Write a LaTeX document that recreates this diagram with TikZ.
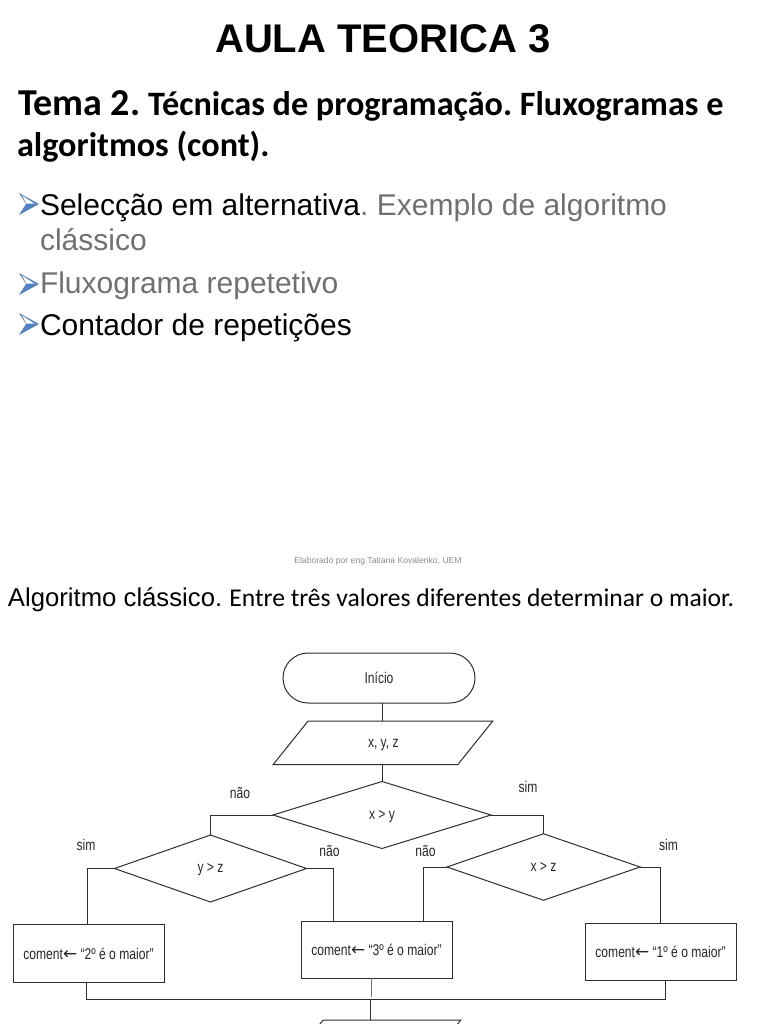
\documentclass[tikz,border=0pt]{standalone}
\usepackage{fontspec}
\setmainfont{Liberation Sans}
\newfontfamily\carl{Carlito}
\newfontfamily\dejavu{DejaVu Sans}
\newfontfamily\narrow[FakeStretch=0.78]{Liberation Sans}
\usetikzlibrary{shapes.geometric,calc}
\definecolor{graytxt}{RGB}{112,112,112}
\definecolor{bulletblue}{RGB}{84,128,196}
\definecolor{linecol}{RGB}{45,45,45}
\newcommand{\fs}[1]{\fontsize{#1}{#1}\selectfont}
\newcommand{\arr}{{\dejavu\fontsize{17}{17}\selectfont\char"2190}}
\newcommand{\dn}[1]{\raisebox{-2.4pt}{#1}}
\newcommand{\dnz}[1]{\raisebox{-4.2pt}[0pt][0pt]{#1}}
\frenchspacing
\tikzset{
  txt/.style={anchor=base west,inner sep=0pt,outer sep=0pt},
  lab/.style={inner sep=0pt,font=\narrow\fs{15.5},text=black!85},
  shp/.style={draw=linecol,line width=1pt,inner sep=0pt,outer sep=0pt,font=\narrow\fs{15.5},text=black!85},
  dec/.style={shp,diamond},
  para/.style={shp,trapezium,trapezium stretches=true,trapezium left angle=51,trapezium right angle=129,text width=30pt,align=center},
  conn/.style={draw=linecol,line width=1pt},
  blt/.pic={
    \fill[bulletblue] (0,0) -- (20,11) -- (0,22) -- (7,11) -- cycle;
    \fill[white] (3.2,2.6) -- (15.5,10.7) -- (7.4,10.7) -- cycle;
  }
}
\begin{document}
\begin{tikzpicture}[x=1pt,y=-1pt]
\useasboundingbox (0,0) rectangle (768,1024);
\clip (0,0) rectangle (768,1024);
% Heading text
\node[inner sep=0pt] (title) at (383,38.5) {\fs{40}\bfseries AULA TEORICA 3};
\node[txt] (t1) at (18,115.5) {\carl\bfseries\fs{38}Tema 2.\fs{34.2} Técnicas de programação. Fluxogramas e};
\node[txt] (t2) at (17,156.5) {\carl\bfseries\fs{34.2}algoritmos (cont).};
\pic at (19,193) {blt};
\node[txt] (b1) at (40,215.5) {\fs{30}Selecção em alternativa\textcolor{graytxt}{. Exemplo de algoritmo}};
\node[txt,text=graytxt] (b1b) at (40,250.5) {\fs{30}clássico};
\pic at (19,273) {blt};
\node[txt,text=graytxt] (b2) at (40,293.5) {\fs{30}Fluxograma repetetivo};
\pic at (19,313) {blt};
\node[txt] (b3) at (40,335.5) {\fs{30}Contador de repetições};
\node[inner sep=0pt,text=black!45] (foot) at (378,561) {\fs{8.6}Elaborado por eng.Tatiana Kovalenko, UEM};
\node[txt] (a1) at (8,606) {\fs{25.7}Algoritmo clássico.\ \carl\fs{25.6}Entre três valores diferentes determinar o maior.};
% Flowchart shapes
\node[shp,minimum width=192pt,minimum height=50pt,rounded corners=25pt] (start) at (379,678) {Início};
\node[para,minimum width=220pt,minimum height=43.5pt,text height=6.3pt,text depth=2.34pt] (input) at (383,742.75) {\dn{\spaceskip=3.3pt\xspaceskip=3.3pt x, y, z}};
\node[dec,minimum width=218pt,minimum height=67pt] (d1) at (382,815) {\dnz{x > y}};
\node[dec,minimum width=192pt,minimum height=67pt] (d2) at (210.5,868.5) {\dnz{y > z}};
\node[dec,minimum width=193pt,minimum height=66.5pt] (d3) at (543.5,867) {\dnz{x > z}};
\node[shp,minimum width=151pt,minimum height=57.5pt] (box2) at (88.5,953.5) {coment\arr\ “2º é o maior”};
\node[shp,minimum width=151pt,minimum height=56.5pt] (box3) at (376.5,950) {coment\arr\ “3º é o maior”};
\node[shp,minimum width=151pt,minimum height=56.5pt] (box1) at (660.5,952) {coment\arr\ “1º é o maior”};
\node[para,minimum width=173pt,minimum height=44pt,text height=8pt,text depth=4.6pt] (output) at (374.5,1042) {\phantom{x}};
% Connectors
\coordinate (bus) at (370.5,999.5);
\draw[conn] ([xshift=3pt]start.south) -- ([xshift=3pt]start.south |- input.north);
\draw[conn] (input.south -| d1.north) -- (d1.north);
\draw[conn] (d1.west) -| (d2.north);
\draw[conn] (d1.east) -| (d3.north);
\draw[conn] (d2.west) -| ([xshift=-1pt]box2.north);
\draw[conn] (d2.east) -| ([xshift=32pt]box3.north west);
\draw[conn] (d3.west) -| ([xshift=122pt]box3.north west);
\draw[conn] (d3.east) -| (box1.north);
\draw[conn] ([xshift=-2pt]box2.south) |- (bus) -| ([xshift=5pt]box1.south);
\draw[conn,draw=black!55] ([xshift=-5pt]box3.south) -- ++(0,19);
\draw[conn] (bus) -- (bus |- output.north);
% Branch labels
\node[lab] (l1) at (240,793) {não};
\node[lab] (l2) at (86,845) {sim};
\node[lab] (l3) at (329.5,851) {não};
\node[lab] (l4) at (425.5,851) {não};
\node[lab] (l5) at (528,787) {sim};
\node[lab] (l6) at (668.5,845) {sim};
\end{tikzpicture}
\end{document}
